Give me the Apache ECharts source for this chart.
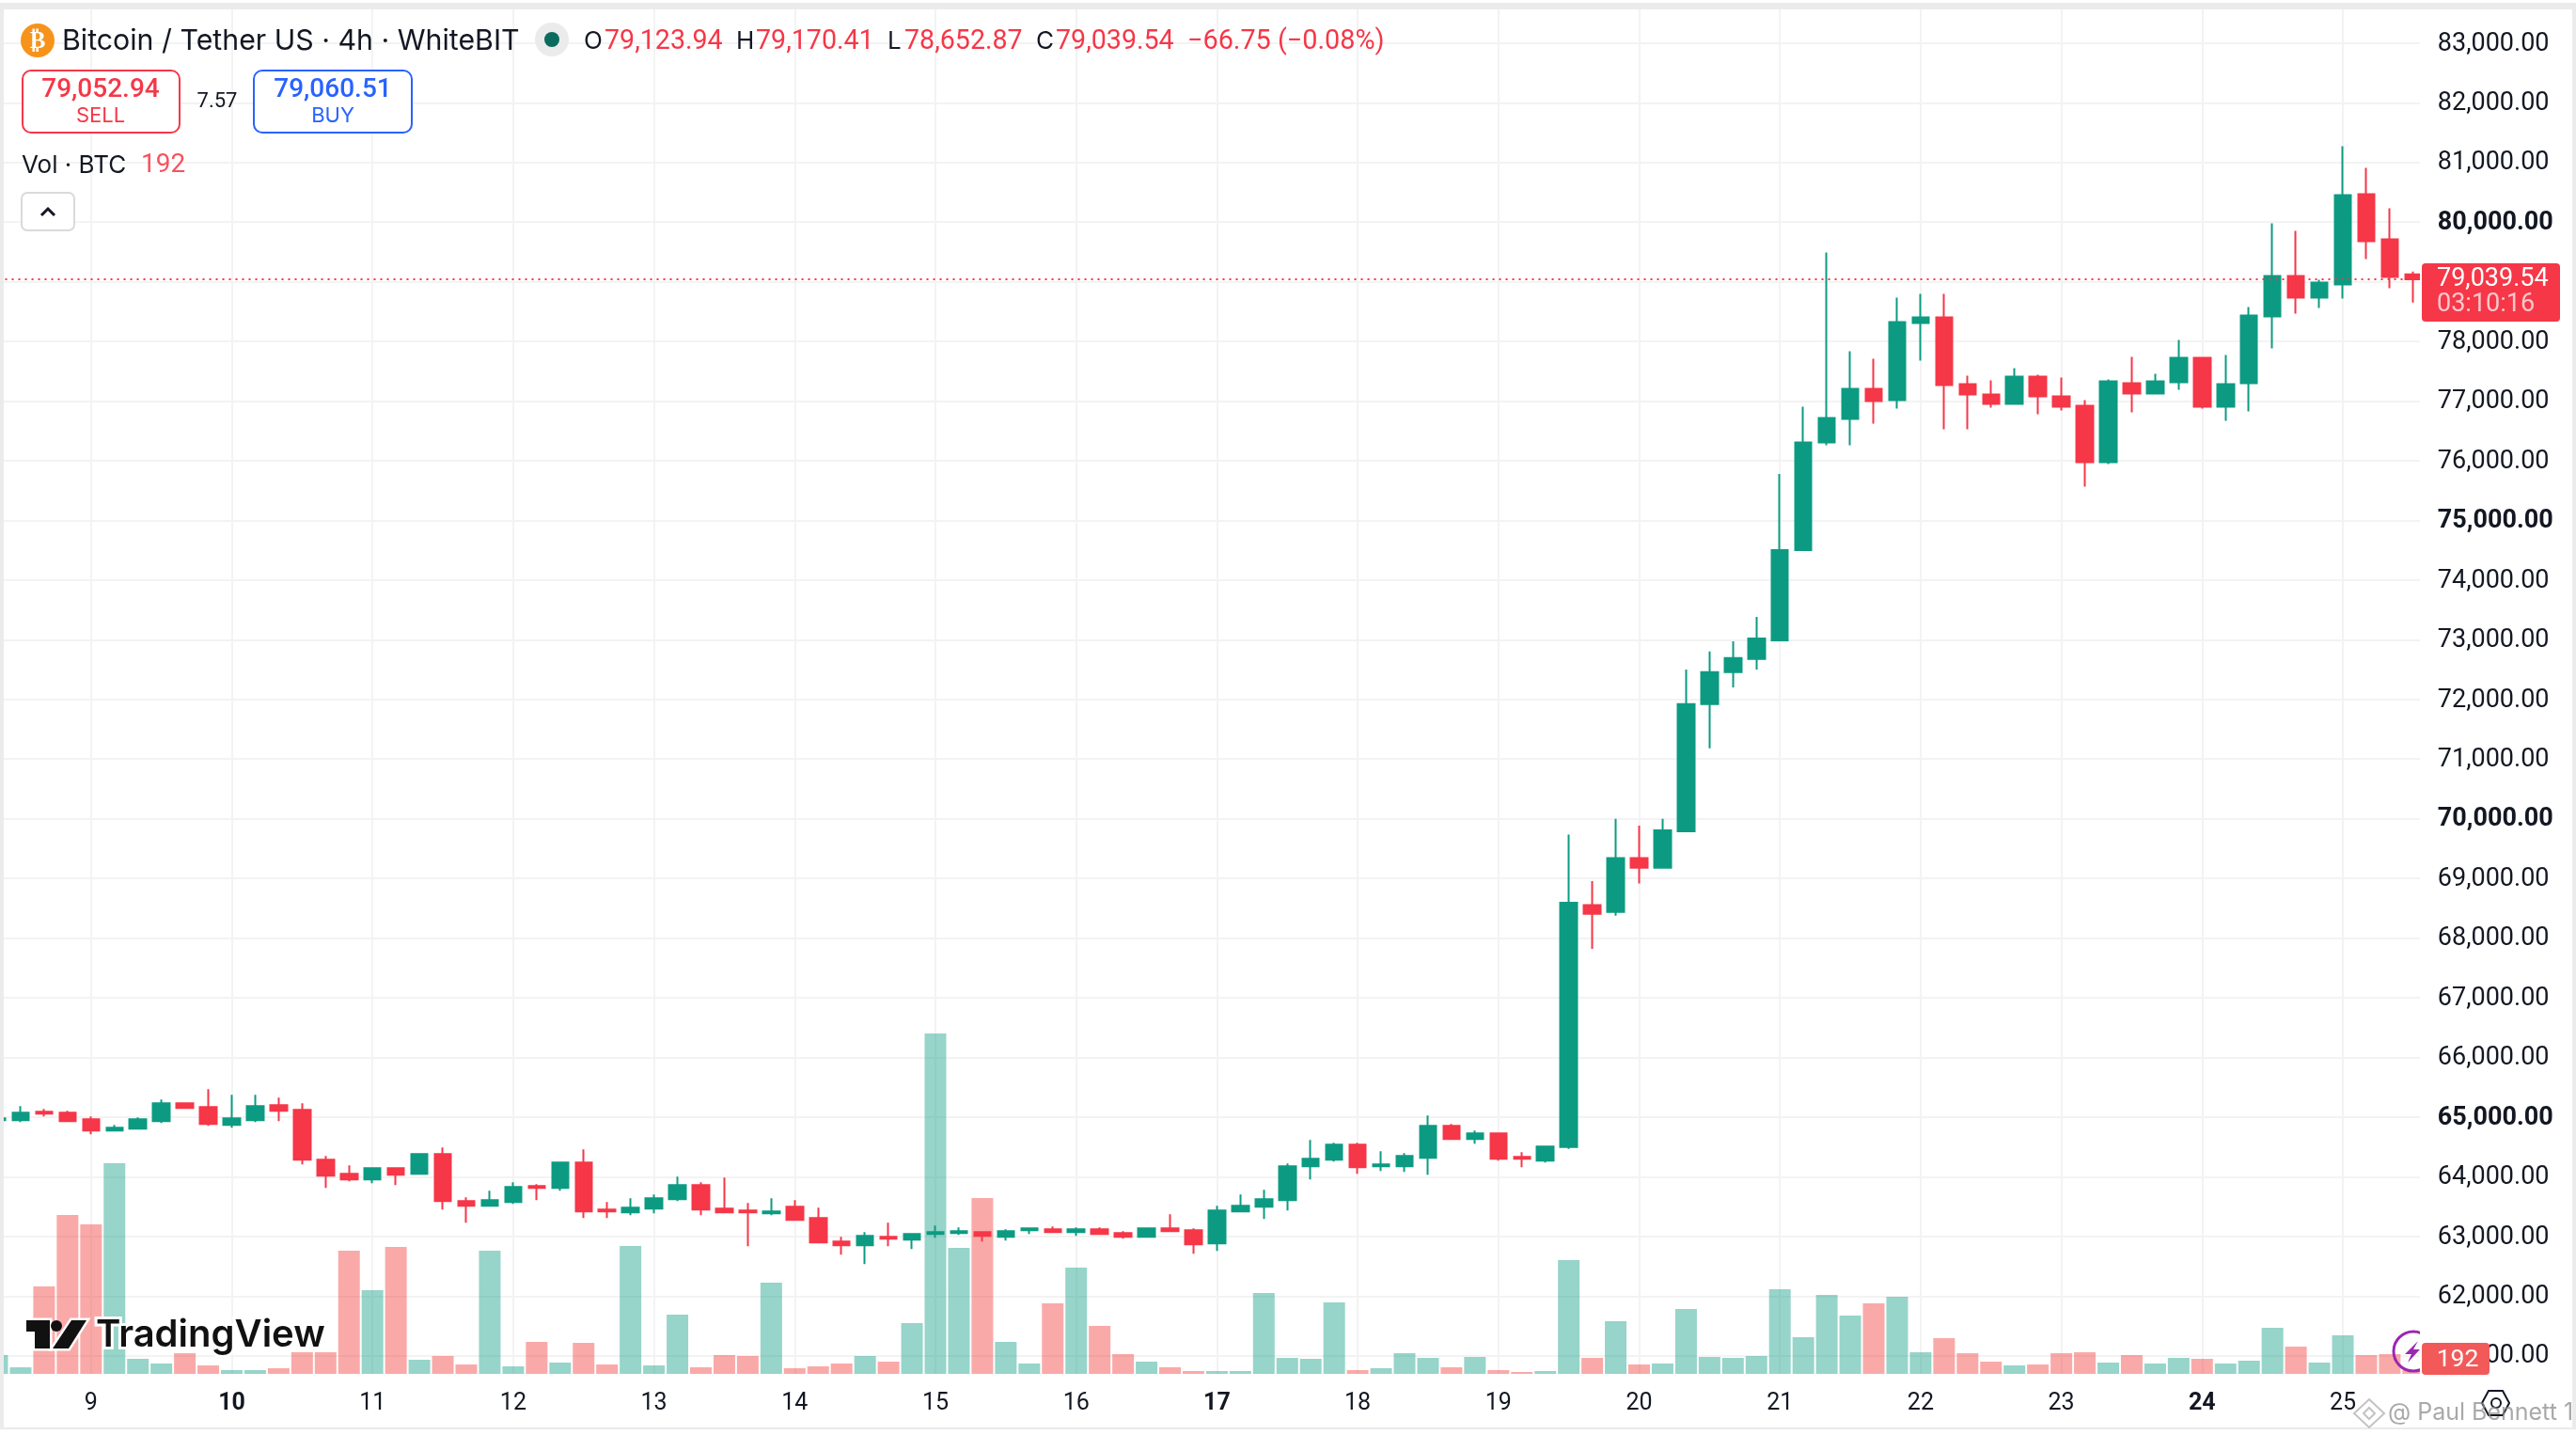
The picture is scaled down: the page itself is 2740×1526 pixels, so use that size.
<!DOCTYPE html>
<html>
<head>
<meta charset="utf-8">
<title>BTC/USDT 4h</title>
<style>html,body{margin:0;padding:0;background:#fff}#c{width:2740px;height:1526px}</style>
<script src="https://cdn.jsdelivr.net/npm/echarts@6/dist/echarts.min.js"></script>
</head>
<body>
<div id="c"></div>
<script>
const dayLabels = [9,10,11,12,13,14,15,16,17,18,19,20,21,22,23,24,25];
const boldDays = [10,17,24];
const priceTicksBold = [65000,70000,75000,80000];
const lastPrice = 79039.54;

const opens = [64947,64947,65089,65073,64963,64774,64805,64931,65231,65168,64868,64947,65199,65120,64285,64049,63954,64143,64049,64380,63592,63513,63576,63844,63812,
64238,63450,63403,63466,63624,63860,63466,63434,63387,63497,63308,62914,62851,62993,62946,63040,63056,63072,62993,63104,63119,63072,63119,63056,62993,63135,63104,
62883,63419,63497,63608,64175,64285,64538,64175,64175,64317,64853,64632,64727,64333,64270,64500,68552,68439,69340,69179,69790,71920,72459,72676,72990,74501,76307,76701,77206,77017,78309,78403,77284,77111,76953,77410,77079,76922,75976,77300,77127,77316,77726,76906,77300,78419,79097,78734,78955,80468,79711,79123.94];
const closes = [64979,65073,65057,64931,64774,64821,64963,65231,65152,64884,64979,65183,65105,64285,64017,63954,64143,64033,64380,63592,63513,63608,63828,63812,64238,
63419,63419,63482,63639,63860,63450,63403,63403,63419,63277,62899,62851,63009,62962,63040,63072,63088,63009,63088,63135,63072,63119,63040,62993,63135,63088,62867,
63434,63513,63624,64175,64301,64538,64159,64207,64348,64853,64632,64727,64301,64301,64506,68592,68407,69340,69179,69806,71920,72459,72692,73022,74501,76307,76717,77206,77001,78325,78403,77269,77111,76953,77410,77079,76906,75976,77332,77127,77332,77726,76906,77284,78435,79097,78734,78986,80452,79680,79081,79039.54];
const lows = [64940,64916,65010,64931,64711,64774,64790,64900,65152,64853,64821,64916,64931,64206,63812,63923,63891,63860,64033,63450,63229,63513,63545,63608,63765,
63308,63308,63356,63387,63592,63356,63403,62836,63356,63277,62899,62694,62536,62836,62788,62977,63025,62914,62930,63040,63072,63009,63025,62962,62993,63088,62709,
62757,63419,63293,63434,63954,64254,64049,64096,64081,64033,64632,64553,64270,64159,64238,64468,67820,68375,68914,69163,69774,71181,72202,72499,72990,74501,76260,76260,76623,76875,77678,76528,76528,76890,76953,76780,76843,75567,75945,76812,77111,77190,76875,76670,76827,77883,78466,78561,78718,79380,78892,78652.87];
const highs = [64990,65183,65136,65105,65010,64868,64994,65294,65247,65467,65373,65373,65325,65231,64348,64191,64159,64159,64396,64490,63655,63765,63907,63875,64238,
64459,63576,63639,63702,64002,63907,63986,63560,63639,63608,63482,62993,63072,63230,63056,63182,63151,63072,63119,63135,63167,63151,63151,63088,63135,63371,63135,
63513,63702,63781,64222,64616,64569,64569,64427,64396,65026,64884,64774,64742,64411,64522,69734,68954,69999,69886,69999,72499,72805,72974,73384,75780,76906,79491,77836,77710,78734,78797,78797,77426,77347,77552,77442,77395,77017,77363,77741,77458,78025,77726,77773,78577,79979,79853,79034,81271,80909,80231,79170.41];
const volumes = [900,315,4185,7605,7155,10080,720,495,990,405,180,180,270,1035,1035,5895,4005,6075,675,855,450,5895,360,1530,540,1485,450,6120,405,2835,315,900,855,4365,270,360,495,855,585,2430,16290,6030,8415,1530,495,3375,5085,2295,945,585,315,135,135,135,3870,765,720,3420,180,270,990,765,315,810,180,90,135,5445,765,2520,450,495,3105,810,765,855,4050,1755,3780,2790,3375,3690,1035,1710,990,585,405,450,990,1035,540,900,495,765,720,495,630,2205,1305,540,1845,900,945,192];

const UP = '#0C9B82', DOWN = '#F53748', GRID = '#F3F3F3', INK = '#131722', FONT = 'Inter, "Noto Sans", sans-serif', NUM = 'Roboto, Inter, sans-serif';
const FIRST_DAY_INDEX = 4, BARS_PER_DAY = 6;
const categories = opens.map(() => '');
dayLabels.forEach((d, k) => { categories[FIRST_DAY_INDEX + k * BARS_PER_DAY] = String(d); });
const dayIndices = dayLabels.map((d, k) => FIRST_DAY_INDEX + k * BARS_PER_DAY);

const T = (x, y, text, size, fill, o = {}) => ({ type: 'text', x, y, z: o.z || 30, silent: true,
  style: Object.assign({ text, fill, font: `${o.weight || 400} ${size}px ${o.font || FONT}`, textAlign: o.align || 'left', textVerticalAlign: 'middle' }, o.style || {}) });
const N = (x, y, text, size, fill, o = {}) => T(x, y, text, size, fill, Object.assign({ font: NUM }, o));
const R = (x, y, w, h, fill, o = {}) => ({ type: 'rect', z: o.z || 20, silent: true, shape: { x, y, width: w, height: h, r: o.r || 0 },
  style: { fill, stroke: o.stroke || null, lineWidth: o.lw || 0 } });
const C = (cx, cy, r, fill, o = {}) => ({ type: 'circle', z: o.z || 30, silent: true, shape: { cx, cy, r }, style: { fill, stroke: o.stroke || null, lineWidth: o.lw || 0 } });
const P = (points, fill, o = {}) => ({ type: 'polygon', z: o.z || 30, silent: true, shape: { points }, style: { fill, stroke: o.stroke || null, lineWidth: o.lw || 0 } });
const L = (points, stroke, lw, z) => ({ type: 'polyline', z: z || 30, silent: true, shape: { points }, style: { stroke, lineWidth: lw, fill: null } });

const graphics = [
  // frame
  R(2574, 10, 16, 1508, '#fff', { z: 20 }),
  R(0, 3, 2740, 7, '#EBEBEB', { z: 21 }),
  R(0, 3, 4, 1517, '#EBEBEB', { z: 21 }),
  R(0, 1518, 2740, 2, '#EBEBEB', { z: 21 }),
  R(2736, 3, 4, 1517, '#EBEBEB', { z: 21 }),
  // header
  C(40, 43, 18, '#F7931A'),
  T(40, 44, '₿', 25, '#fff', { align: 'center', weight: 700, font: '"DejaVu Sans"' }),
  T(66, 44, 'Bitcoin / Tether US · 4h · WhiteBIT', 30.3, INK),
  C(587, 42, 18, '#EBEBEB'),
  C(587, 42, 8, '#0B6B5E'),
  T(621, 44, 'O', 26, INK), N(643, 44.5, '79,123.94', 28.6, DOWN),
  T(783, 44, 'H', 26, INK), N(804, 44.5, '79,170.41', 28.6, DOWN),
  T(944, 44, 'L', 26, INK), N(962, 44.5, '78,652.87', 28.6, DOWN),
  T(1102, 44, 'C', 26, INK), N(1123, 44.5, '79,039.54', 28.6, DOWN),
  N(1263, 44.5, '−66.75 (−0.08%)', 28.8, DOWN),
  // sell / buy
  R(24, 75, 167, 66, '#fff', { z: 30, r: 9, stroke: DOWN, lw: 2 }),
  N(107, 96, '79,052.94', 28, DOWN, { align: 'center', weight: 500 }),
  T(107, 123, 'SELL', 22, DOWN, { align: 'center' }),
  N(231, 108, '7.57', 22, INK, { align: 'center' }),
  R(270, 75, 168, 66, '#fff', { z: 30, r: 9, stroke: '#2962FF', lw: 2 }),
  N(354, 96, '79,060.51', 28, '#2962FF', { align: 'center', weight: 500 }),
  T(354, 123, 'BUY', 22, '#2962FF', { align: 'center' }),
  T(23, 176, 'Vol · BTC', 26, INK),
  N(150, 176, '192', 28, '#F7525F'),
  R(23, 205, 56, 40, '#fff', { z: 30, r: 6, stroke: '#DADADA', lw: 2 }),
  L([[44, 229], [51, 222], [58, 229]], INK, 3),
  // last price tag
  R(2576, 280, 147, 62, DOWN, { z: 30, r: 4 }),
  N(2592, 297, '79,039.54', 27, '#fff'),
  N(2592, 324, '03:10:16', 27, 'rgba(255,255,255,0.72)'),
  // volume tag and badge
  C(2567, 1437, 21, 'rgba(255,255,255,0)', { z: 15, stroke: '#9C27B0', lw: 3 }),
  P([[2572, 1426], [2558, 1440], [2565, 1440], [2561, 1449], [2574, 1435], [2567, 1435]], '#9C27B0', { z: 15 }),
  R(2576, 1428, 72, 34, '#F25A5A', { z: 30, r: 4 }),
  N(2614, 1446, '192', 26.5, '#fff', { align: 'center' }),
  // settings
  P([[2640, 1492], [2647, 1479], [2662, 1479], [2669, 1492], [2662, 1505], [2647, 1505]], 'rgba(255,255,255,0)', { stroke: INK, lw: 2 }),
  C(2655, 1492, 5, 'rgba(255,255,255,0)', { stroke: INK, lw: 2 }),
  // watermark
  P([[2520, 1488], [2536, 1503], [2520, 1518], [2504, 1503]], 'rgba(255,255,255,0)', { z: 32, stroke: 'rgba(170,170,170,0.7)', lw: 2 }),
  P([[2520, 1497], [2526, 1503], [2520, 1509], [2514, 1503]], 'rgba(255,255,255,0)', { z: 32, stroke: 'rgba(170,170,170,0.7)', lw: 2 }),
  T(2540, 1502, '@ Paul Bennett 1', 25, 'rgba(140,140,140,0.75)', { z: 32 }),
  // TradingView logo
  P([[28, 1404], [53, 1404], [53, 1434], [37, 1434], [37, 1416], [28, 1416]], '#111', { stroke: '#fff', lw: 5 }),
  P([[28, 1404], [53, 1404], [53, 1434], [37, 1434], [37, 1416], [28, 1416]], '#111', {}),
  C(60, 1410, 6, '#111'),
  P([[76, 1404], [92, 1404], [73, 1434], [56, 1434]], '#111', { stroke: '#fff', lw: 5 }),
  P([[76, 1404], [92, 1404], [73, 1434], [56, 1434]], '#111', {}),
  T(102, 1420, 'TradingView', 40, '#111', { weight: 600, style: { stroke: '#fff', lineWidth: 6 } })
];

const fmt = v => v.toLocaleString('en-US', { minimumFractionDigits: 2, maximumFractionDigits: 2 });

const option = {
  animation: false,
  backgroundColor: '#fff',
  textStyle: { fontFamily: FONT },
  grid: [
    { left: -15.475, width: 2594.8, top: 45.8, height: 1395.9, outerBoundsMode: 'none' },
    { left: -15.475, width: 2594.8, top: 10, height: 1451, outerBoundsMode: 'none' }
  ],
  xAxis: [
    { type: 'category', gridIndex: 0, data: categories, show: false },
    { type: 'category', gridIndex: 1, data: categories, axisLine: { show: false }, axisTick: { show: false }, splitLine: { show: false },
      axisLabel: { interval: 0, margin: 19.5, hideOverlap: false,
        formatter: v => v === '' ? '' : (boldDays.includes(+v) ? `{b|${v}}` : `{n|${v}}`),
        rich: { n: { fontSize: 25, color: INK, fontFamily: NUM }, b: { fontSize: 25, fontWeight: 700, color: INK, fontFamily: NUM } } } }
  ],
  yAxis: [
    { type: 'value', gridIndex: 0, min: 61000, max: 83000, interval: 1000, position: 'right', scale: true,
      axisLine: { show: false }, axisTick: { show: false },
      splitLine: { show: true, lineStyle: { color: GRID, width: 2 } },
      axisLabel: { margin: 13.5, formatter: v => priceTicksBold.includes(v) ? `{b|${fmt(v)}}` : `{n|${fmt(v)}}`,
        rich: { n: { fontSize: 27, color: INK, fontFamily: NUM, padding: [2, 0, 0, 0] }, b: { fontSize: 27, fontWeight: 700, color: INK, fontFamily: NUM, padding: [2, 0, 0, 0] } } } },
    { type: 'value', gridIndex: 1, min: 0, max: 65295, show: false, splitLine: { show: false } }
  ],
  series: [
    { name: 'days', type: 'line', xAxisIndex: 1, yAxisIndex: 1, z: 0, silent: true, symbol: 'none', data: opens.map(() => null),
      markLine: { z: 0, silent: true, symbol: 'none', label: { show: false }, animation: false,
        lineStyle: { color: GRID, width: 2, type: 'solid' },
        data: dayIndices.map(i => ({ xAxis: i })) } },
    { name: 'Vol', type: 'bar', xAxisIndex: 1, yAxisIndex: 1, z: 1, silent: true, barWidth: 23,
      data: volumes.map((v, i) => ({ value: v, itemStyle: { color: closes[i] >= opens[i] ? 'rgba(8,153,129,0.42)' : 'rgba(242,57,53,0.43)' } })) },
    { name: 'BTCUSDT', type: 'candlestick', xAxisIndex: 0, yAxisIndex: 0, z: 3, silent: true, barWidth: 18,
      itemStyle: { color: UP, color0: DOWN, borderColor: UP, borderColor0: DOWN, borderWidth: 2 },
      data: opens.map((o, i) => [o, closes[i], lows[i], highs[i]]),
      markLine: { silent: true, symbol: 'none', label: { show: false }, animation: false,
        lineStyle: { color: DOWN, width: 2, type: [2, 5] },
        data: [{ yAxis: lastPrice }] } }
  ],
  graphic: { elements: graphics }
};
const chart = echarts.init(document.getElementById('c'), null, { renderer: 'canvas' });
chart.setOption(option);
</script>
</body>
</html>
